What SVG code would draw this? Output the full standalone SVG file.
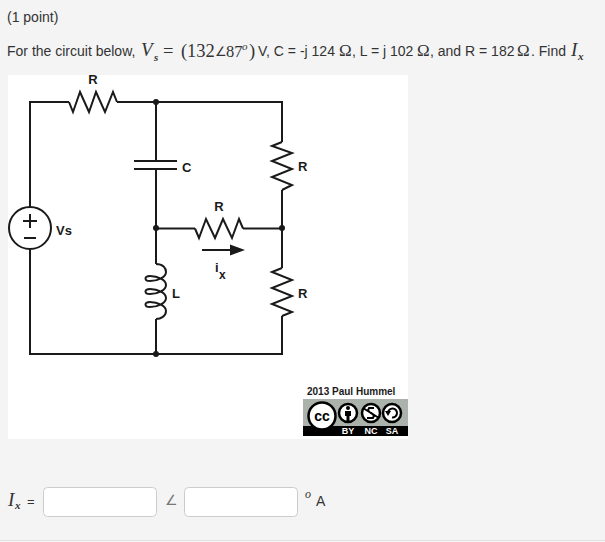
<svg xmlns="http://www.w3.org/2000/svg" width="605" height="542" viewBox="0 0 605 542">
<style>
.t{font-family:"Liberation Sans",Arial,sans-serif;font-size:14px;fill:#333}
.m{font-family:"Liberation Serif","Times New Roman",serif;font-size:18.500px;fill:#333}
.i{font-style:italic}
.o{font-family:"Liberation Serif","Times New Roman",serif;font-size:17px;fill:#333}
.s{font-size:11px;font-weight:bold;fill:#333}
.b{font-family:"Liberation Sans",Arial,sans-serif;font-size:13px;font-weight:bold;fill:#1a1a1a}
.w{fill:none;stroke:#1a1a1a;stroke-width:2}
.d{fill:#1a1a1a}
.inp{fill:#fff;stroke:#ccc;stroke-width:1}
.cc{font-family:"Liberation Sans",Arial,sans-serif;font-size:9px;font-weight:bold;fill:#fff;text-anchor:middle}
.ring{fill:#fff;stroke:#000;stroke-width:2.500}
.ic{fill:none;stroke:#000;stroke-width:2}
</style>
<rect width="605" height="542" fill="#f4f4f4"/>
<line x1="0" y1="540.500" x2="605" y2="540.500" stroke="#e2e2e2"/>
<g id="header">
<text class="t" x="7" y="22">(1 point)</text>
<text class="t" x="7" y="56">For the circuit below,</text>
<text class="m i" x="141" y="56" style="font-size:19px">V</text>
<text class="m i s" x="154" y="61">s</text>
<text class="m" x="163" y="57">=</text>
<text class="m" x="181" y="57">(</text>
<text class="m" x="187" y="57">132</text>
<text class="m" x="215" y="56" style="font-size:13px">∠</text>
<text class="m" x="226" y="57" style="font-size:16.500px">87</text>
<text class="m i" x="242" y="50" style="font-size:11px">o</text>
<text class="m" x="249" y="57">)</text>
<text class="t" x="258" y="56">V, C = -j 124</text>
<text class="o" x="339" y="56">Ω</text>
<text class="t" x="352" y="56">, L = j 102</text>
<text class="o" x="417" y="56">Ω</text>
<text class="t" x="430" y="56">, and R = 182</text>
<text class="o" x="517" y="56">Ω</text>
<text class="t" x="531" y="56">. Find</text>
<text class="m i" x="571" y="56" style="font-size:19px">I</text>
<text class="m i s" x="578" y="60">x</text>
</g>
<rect id="panel" x="8" y="75" width="400" height="364" fill="#fff"/>
<g id="connectors">
<path class="w" d="M30 207V102H69"/>
<path class="w" d="M117 102H282V142"/>
<path class="w" d="M156 102V161"/>
<path class="w" d="M156 169V264"/>
<path class="w" d="M156 319V354"/>
<path class="w" d="M30 249V354H282V316"/>
<path class="w" d="M156 228.500H195"/>
<path class="w" d="M243 228.500H282"/>
<path class="w" d="M282 190V268"/>
</g>
<g id="source-vs">
<circle class="w" cx="30" cy="228" r="21"/>
<path class="w" d="M23 221H37M30 214V228M24 238H36"/>
<text class="b" x="56" y="235">Vs</text>
</g>
<g id="resistor-top">
<path class="w" d="M69 102L73 112L80 92L89 112L96 92L105 112L113 92L117 102"/>
<text class="b" x="93" y="84" text-anchor="middle">R</text>
</g>
<g id="capacitor">
<path class="w" d="M134 161H177M134 169H177"/>
<text class="b" x="182" y="172">C</text>
</g>
<g id="resistor-upper-right">
<path class="w" d="M282 142L272 146L292 153L272 161L292 169L272 177L292 185L282 190"/>
<text class="b" x="298" y="171">R</text>
</g>
<g id="resistor-middle">
<path class="w" d="M195 228.500L199 238L206 219L215 238L223 219L232 238L239 219L243 228.500"/>
<text class="b" x="219" y="211" text-anchor="middle">R</text>
</g>
<g id="current-ix">
<path class="w" d="M202 250H232"/>
<path class="d" d="M230 244.500L245 250L230 255.500Z"/>
<text class="b" x="215" y="272">i</text>
<text class="b" x="219" y="279" style="font-size:12px">x</text>
</g>
<g id="inductor">
<path class="w" d="M156 264C163 264 166 268 166 272C166 277 158 281 150 281C144 281 144 276 150 276C158 276 166 280 166 285C166 290 158 294 150 294C144 294 144 289 150 289C158 289 166 293 166 298C166 303 158 307 150 307C144 307 144 302 150 302C158 302 166 306 166 311C166 316 161 319 156 319"/>
<text class="b" x="172" y="298">L</text>
</g>
<g id="resistor-lower-right">
<path class="w" d="M282 268L272 272L292 280L272 288L292 296L272 304L292 312L282 316"/>
<text class="b" x="298" y="298">R</text>
</g>
<g id="junctions">
<circle class="d" cx="156" cy="102" r="3"/>
<circle class="d" cx="156" cy="228" r="3"/>
<circle class="d" cx="282" cy="228" r="3"/>
<circle class="d" cx="156" cy="354" r="3"/>
</g>
<g id="credit">
<text class="b" x="307" y="395" style="font-size:10px">2013 Paul Hummel</text>
<rect x="303" y="399" width="105" height="37" fill="#aab2ab"/>
<rect x="303" y="426" width="105" height="10" fill="#000"/>
<circle class="ring" cx="322" cy="416" r="13.500"/>
<text x="322" y="421" text-anchor="middle" style="font-family:'Liberation Sans',Arial,sans-serif;font-size:14px;font-weight:bold">cc</text>
<circle class="ring" cx="348" cy="413" r="9"/>
<circle cx="348" cy="408" r="2" fill="#000"/>
<path d="M345 411H351V416H349.500V421H346.500V416H345Z" fill="#000"/>
<circle class="ring" cx="371" cy="413" r="9"/>
<path class="ic" d="M363 408L379 418M374 408H369Q367 411 371 413Q375 415 373 418H367"/>
<circle class="ring" cx="392" cy="413" r="9"/>
<path class="ic" d="M388 413A4.500 4.500 0 1 1 392 417.500"/>
<path d="M385 411H391L388 416Z" fill="#000"/>
<text class="cc" x="348" y="434">BY</text>
<text class="cc" x="371" y="434">NC</text>
<text class="cc" x="392" y="434">SA</text>
</g>
<g id="answer">
<text class="m i" x="8" y="506" style="font-size:19px">I</text>
<text class="m i s" x="15" y="509">x</text>
<text class="t" x="27" y="506" style="font-size:13px">=</text>
<rect class="inp" x="43.500" y="487.500" width="113" height="29" rx="4"/>
<text class="m" x="165" y="505" style="font-size:14px;fill:#777">∠</text>
<rect class="inp" x="184.500" y="487.500" width="113" height="29" rx="4"/>
<text class="m i" x="305" y="498" style="font-size:12px">o</text>
<text class="t" x="316" y="506">A</text>
</g>
</svg>
